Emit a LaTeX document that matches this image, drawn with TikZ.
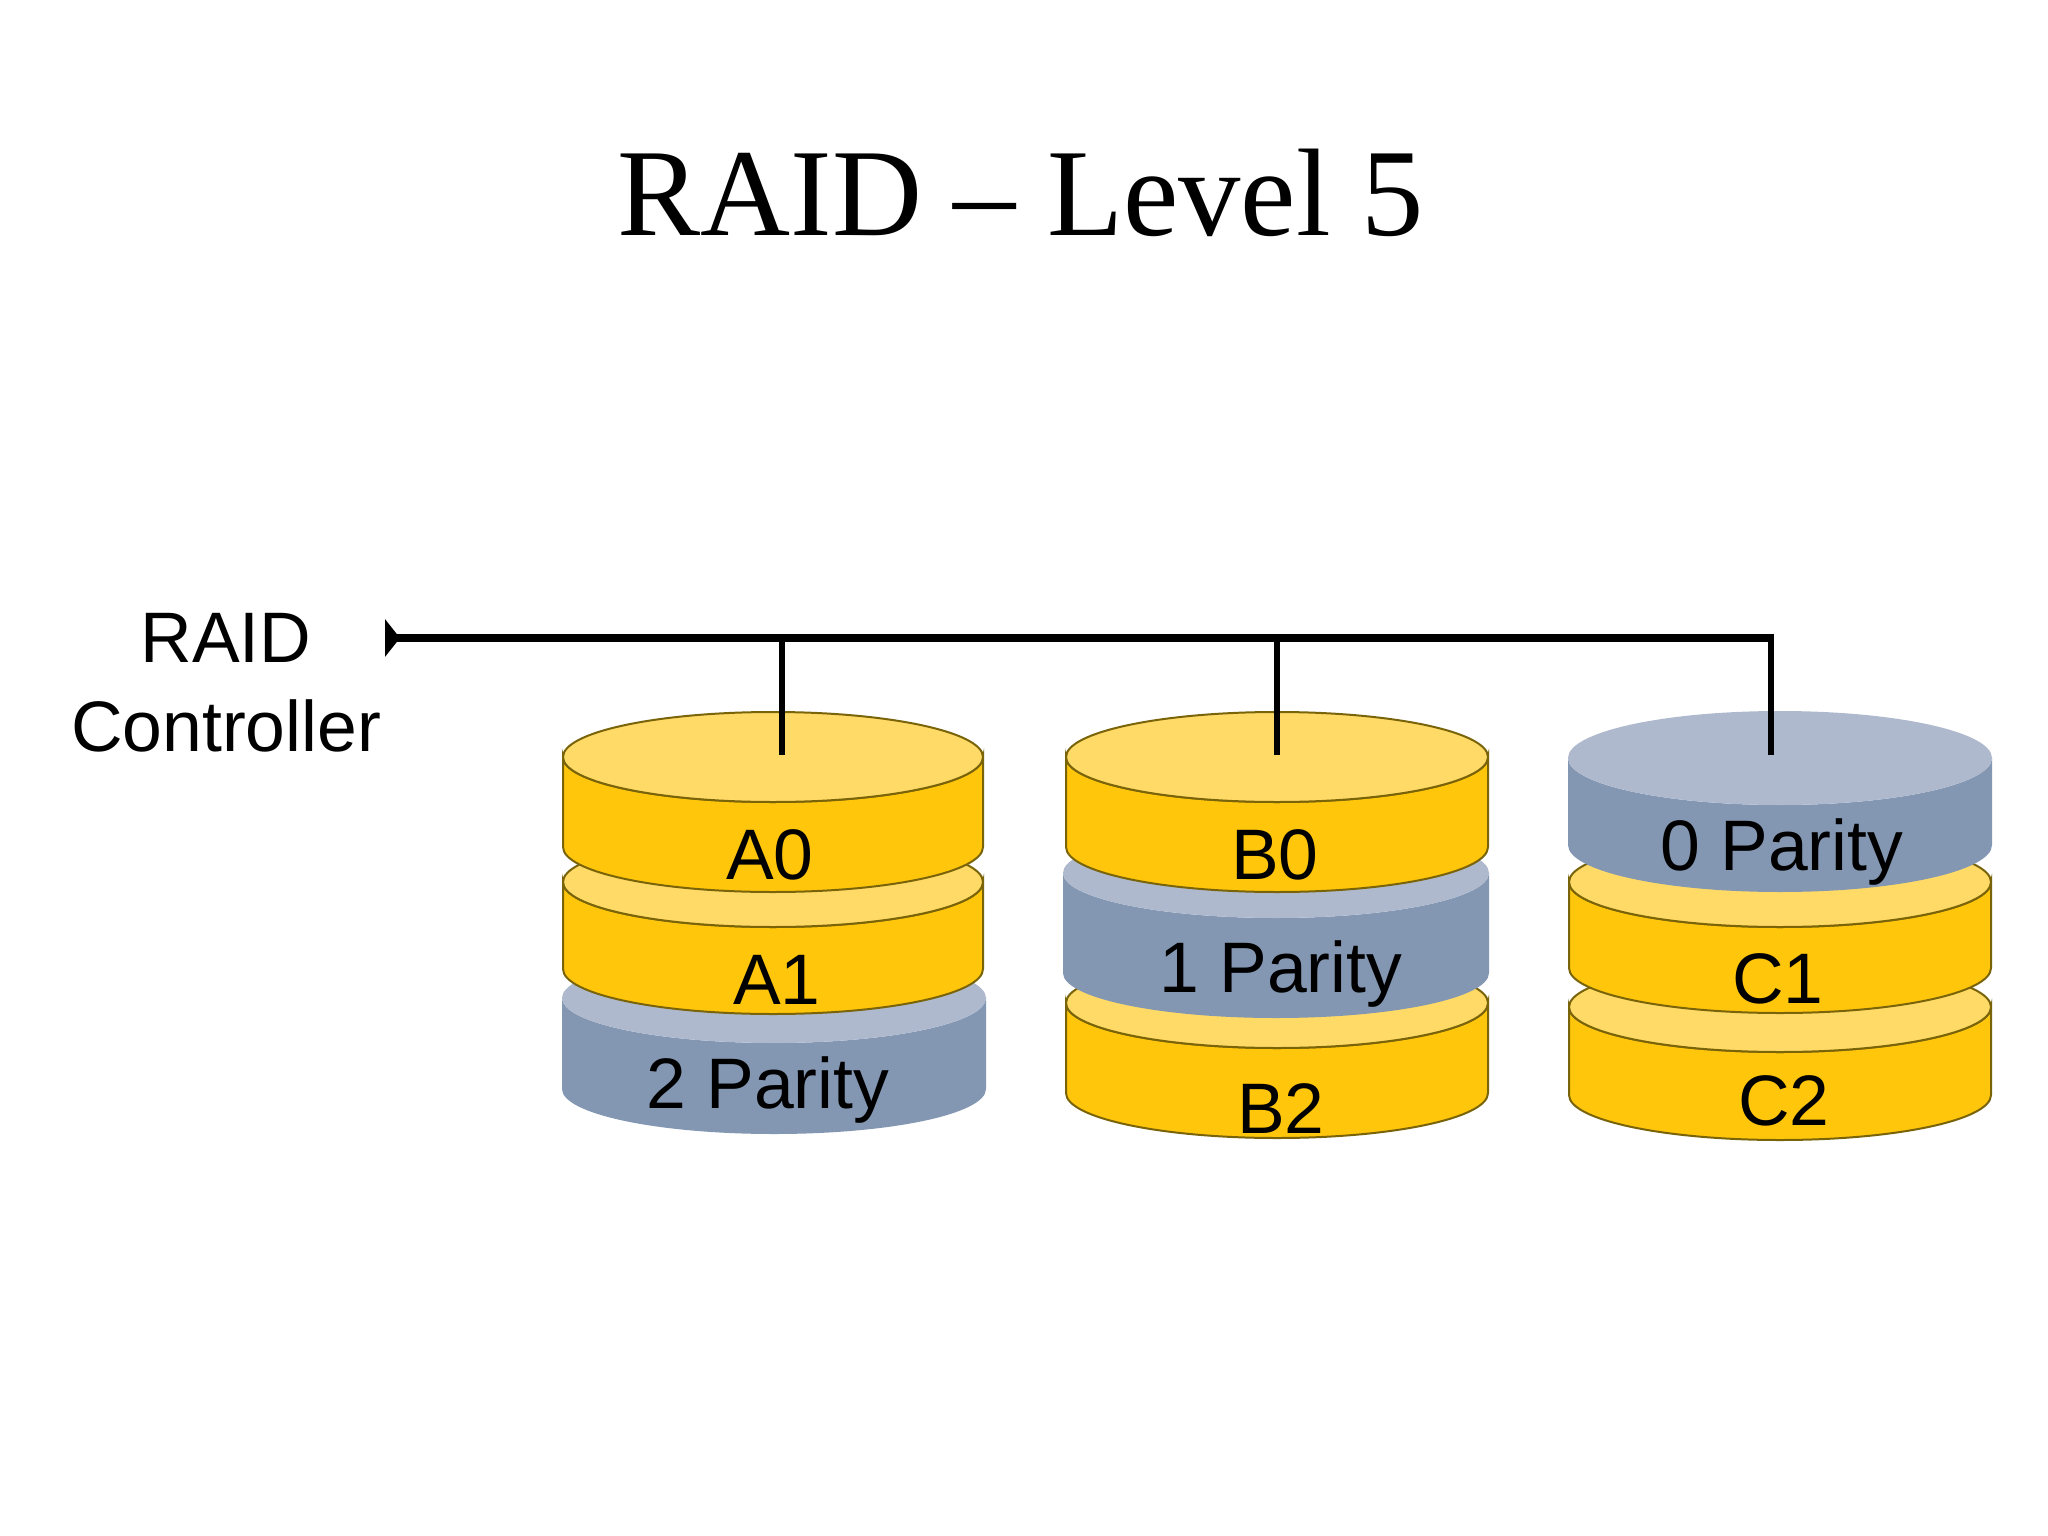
\documentclass[tikz,border=0pt]{standalone}
\usepackage{fontspec}
\setmainfont{Liberation Serif}
\newfontfamily\labelfamily{Liberation Sans}
\usetikzlibrary{arrows.meta}
\newlength{\du}
\setlength{\du}{1pt}
\definecolor{disksidecolor}{RGB}{255,198,11}
\definecolor{disktopcolor}{RGB}{255,218,102}
\definecolor{diskedgecolor}{RGB}{122,100,10}
\definecolor{paritysidecolor}{RGB}{131,150,178}
\definecolor{paritytopcolor}{RGB}{174,185,206}
\tikzset{
  datadisk/.style={draw=diskedgecolor,line width=2\du},
  paritydisk/.style={draw=none},
  disklabel/.style={anchor=base,inner sep=0pt,font=\labelfamily\fontsize{71.5}{80}\selectfont},
  titlelabel/.style={anchor=base,inner sep=0pt,font=\fontsize{124.6}{140}\selectfont},
  busline/.style={line width=8\du,line cap=butt,line join=miter},
  tapline/.style={line width=6\du,line cap=butt},
}
% #1 centre x, #2 top y, #3 bottom y, #4 x radius, #5 y radius, #6 style, #7 side, #8 top
\newcommand{\raiddisk}[8]{
\draw[#6,fill=#7] ({#1\du-#4\du},#2\du)--({#1\du-#4\du},#3\du) arc[start angle=180,end angle=0,x radius=#4\du,y radius=#5\du]--({#1\du+#4\du},#2\du) arc[start angle=0,end angle=180,x radius=#4\du,y radius=#5\du]--cycle;
\draw[#6,fill=#8] (#1\du,#2\du) ellipse[x radius=#4\du,y radius=#5\du];
}
\begin{document}
\begin{tikzpicture}
\pgftransformxscale{1.000000}
\pgftransformyscale{-1.000000}
\useasboundingbox (0\du,0\du) rectangle (2048\du,1536\du);
% left stack
\raiddisk{774}{998}{1089}{212}{45}{paritydisk}{paritysidecolor}{paritytopcolor}
\raiddisk{773}{882}{969}{210}{45}{datadisk}{disksidecolor}{disktopcolor}
\raiddisk{773}{757}{847}{210}{45}{datadisk}{disksidecolor}{disktopcolor}
% middle stack
\raiddisk{1277}{1003}{1093}{211}{45}{datadisk}{disksidecolor}{disktopcolor}
\raiddisk{1276}{873}{973}{213}{45}{paritydisk}{paritysidecolor}{paritytopcolor}
\raiddisk{1277}{757}{847}{211}{45}{datadisk}{disksidecolor}{disktopcolor}
% right stack
\raiddisk{1780}{1007}{1095}{211}{45}{datadisk}{disksidecolor}{disktopcolor}
\raiddisk{1780}{882}{968}{211}{45}{datadisk}{disksidecolor}{disktopcolor}
\raiddisk{1780}{758}{845}{212}{47}{paritydisk}{paritysidecolor}{paritytopcolor}
% setfont left to latex
\node[titlelabel] (title) at (1021\du,235\du){RAID -- Level 5};
\node[disklabel] (raid) at (226\du,662\du){RAID};
\node[disklabel] (controller) at (226\du,751\du){Controller};
\node[disklabel] (a0) at (770\du,879\du){A0};
\node[disklabel] (a1) at (777\du,1004\du){A1};
\node[disklabel] (p2) at (768\du,1108\du){2 Parity};
\node[disklabel] (b0) at (1275\du,879\du){B0};
\node[disklabel] (p1) at (1281\du,992\du){1 Parity};
\node[disklabel] (b2) at (1281\du,1133\du){B2};
\node[disklabel] (p0) at (1782\du,870\du){0 Parity};
\node[disklabel] (c1) at (1778\du,1003\du){C1};
\node[disklabel] (c2) at (1784\du,1125\du){C2};
% bus
\coordinate (busstart) at (385\du,638\du);
\coordinate (buscorner) at (1771\du,638\du);
\coordinate (tapa) at (782\du,638\du);
\coordinate (tapb) at (1277\du,638\du);
\coordinate (diska) at (782\du,755\du);
\coordinate (diskb) at (1277\du,755\du);
\coordinate (diskc) at (1771\du,755\du);
\draw[tapline] (tapa)--(diska);
\draw[tapline] (tapb)--(diskb);
\draw[tapline,shorten <=-4pt] (buscorner)--(diskc);
\draw[busline,shorten >=-3pt,{Triangle[reversed,length=15pt,width=37pt]}-] (busstart)--(buscorner);
\end{tikzpicture}
\end{document}
